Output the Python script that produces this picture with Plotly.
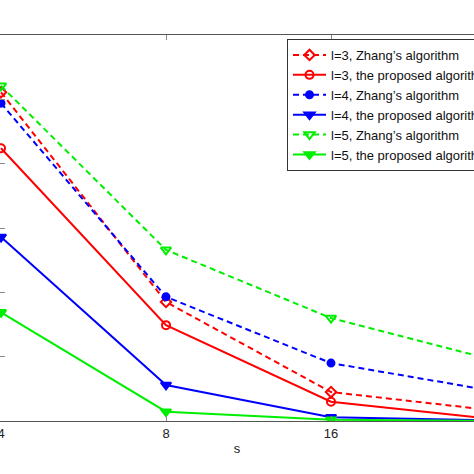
import plotly.graph_objects as go
import math

s_vals = [4, 8, 16, 32]
x_ticks = [4, 8, 16, 32]
x_tick_text = ["4", "8", "16", "32"]
y_ticks = [0, 1, 2, 3, 4, 5, 6]

l3_zhang = [5.11, 1.85, 0.45, 0.16]
l3_prop = [4.24, 1.49, 0.30, 0.025]
l4_zhang = [4.94, 1.93, 0.90, 0.46]
l4_prop = [2.86, 0.56, 0.06, 0.01]
l5_zhang = [5.21, 2.66, 1.60, 0.94]
l5_prop = [1.69, 0.145, 0.02, 0.0]

RED = "#ff0000"
BLUE = "#0000ff"
GREEN = "#00ee00"

series = [
    ("l=3, Zhang’s algorithm", l3_zhang, RED, "dash", "diamond-open", 8),
    ("l=3, the proposed algorithm", l3_prop, RED, "solid", "circle-open", 8),
    ("l=4, Zhang’s algorithm", l4_zhang, BLUE, "dash", "circle", 7),
    ("l=4, the proposed algorithm", l4_prop, BLUE, "solid", "triangle-down", 9),
    ("l=5, Zhang’s algorithm", l5_zhang, GREEN, "dash", "triangle-down-open", 9),
    ("l=5, the proposed algorithm", l5_prop, GREEN, "solid", "triangle-down", 9),
]

fig = go.Figure()
for name, ys, color, dash, sym, size in series:
    fig.add_trace(go.Scatter(
        x=s_vals, y=ys, name=name, mode="lines+markers",
        line=dict(color=color, width=2, dash="6px,4px" if dash == "dash" else "solid"),
        marker=dict(symbol=sym, size=size, color=color,
                    line=dict(color=color, width=2)),
    ))

start = math.log10(4) - (1 / 165) * math.log10(2)
end = start + (474 / 165) * math.log10(2)

fig.update_layout(
    width=474, height=474,
    margin=dict(l=0, r=0, t=35, b=53, autoexpand=False),
    paper_bgcolor="white", plot_bgcolor="white",
    font=dict(family="Liberation Sans, Arial, sans-serif", size=13, color="#222"),
    showlegend=True,
    legend=dict(
        x=287 / 474, y=(421 - 39) / 386, xanchor="left", yanchor="top",
        bgcolor="white", bordercolor="#333", borderwidth=1,
        font=dict(size=13, color="#111"), tracegroupgap=0, itemwidth=33,
    ),
    xaxis=dict(
        type="log", range=[start, end], tickvals=x_ticks, ticktext=x_tick_text,
        showgrid=False, zeroline=False, showline=True, linecolor="#555", linewidth=1,
        mirror="ticks", ticks="inside", ticklen=5, tickcolor="#888",
        title=dict(text="s", standoff=4, font=dict(size=13)),
        automargin=False, tickfont=dict(size=13), ticklabeloverflow="allow",
    ),
    yaxis=dict(
        range=[0, 6], tickvals=y_ticks, showticklabels=False,
        showgrid=False, zeroline=False, showline=False,
        ticks="inside", ticklen=5, tickcolor="#888", automargin=False,
    ),
)

fig.write_html("out.html")
